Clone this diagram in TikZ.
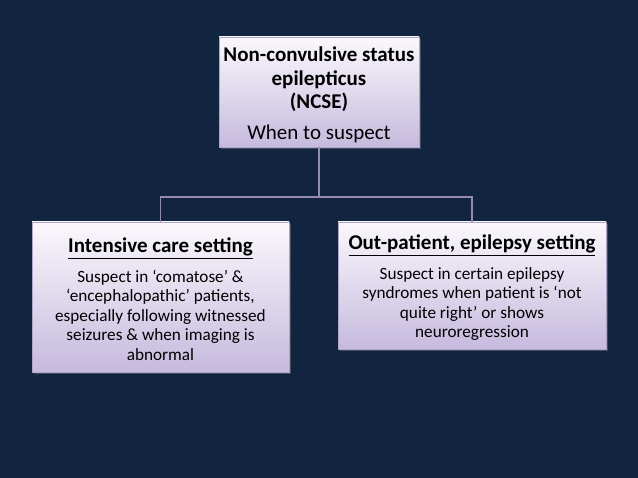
\documentclass[tikz,border=0pt]{standalone}
\usepackage{fontspec}
\setmainfont{Carlito}
\usetikzlibrary{shadows}
\definecolor{bg}{RGB}{18,37,64}
\definecolor{conn}{RGB}{150,138,180}
\definecolor{boxtop}{RGB}{250,248,252}
\definecolor{boxbot}{RGB}{198,186,222}
\definecolor{boxedge}{RGB}{175,165,200}
\newcommand{\ttl}[1]{{\fontsize{21}{22}\selectfont\bfseries\rule{0pt}{19.5pt}\underline{#1}}}
\begin{document}
\begin{tikzpicture}[x=1pt,y=-1pt,
  box/.style={draw=boxedge, line width=0.6pt, top color=boxtop, bottom color=boxbot,
    drop shadow={shadow xshift=2pt, shadow yshift=-2pt, opacity=0.45},
    inner sep=0pt, align=center, text=black},
  conn/.style={draw=conn, line width=1.6pt}]
\fill[bg] (0,0) rectangle (638,478);
\node[box, minimum width=200pt, minimum height=110pt, font=\fontsize{21}{23.5}\selectfont] (top) at (319,92)
  {\rule{0pt}{20pt}\textbf{Non-convulsive status}\\ \textbf{epilepticus}\\ \textbf{(NCSE)}\\[7pt]
   When to suspect};
\node[box, minimum width=257pt, minimum height=150pt, font=\fontsize{17.2}{19.5}\selectfont] (left) at (160.5,297)
  {\ttl{Intensive care setting}\\[10pt]
   Suspect in ‘comatose’ \&\\ ‘encephalopathic’ patients,\\ especially following witnessed\\ seizures \& when imaging is\\ abnormal};
\node[box, minimum width=268pt, minimum height=127pt, font=\fontsize{17.2}{19.5}\selectfont] (right) at (472,285.5)
  {\ttl{Out-patient, epilepsy setting}\\[10pt]
   Suspect in certain epilepsy\\ syndromes when patient is ‘not\\ quite right’ or shows\\ neuroregression};
\coordinate (j) at (319,197);
\draw[conn] (top.south) -- (j);
\draw[conn] (left.north) |- (j) -| (right.north);
\end{tikzpicture}
\end{document}
